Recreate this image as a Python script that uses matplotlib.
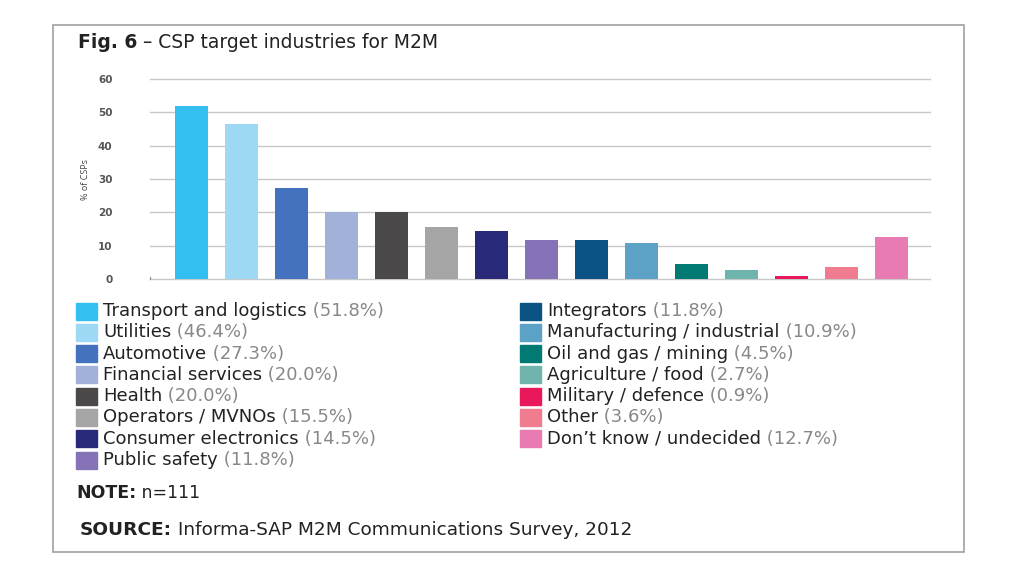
import matplotlib.pyplot as plt
from matplotlib.patches import Rectangle

industries = ["Transport and logistics", "Utilities", "Automotive", "Financial services",
              "Health", "Operators / MVNOs", "Consumer electronics", "Public safety",
              "Integrators", "Manufacturing / industrial", "Oil and gas / mining",
              "Agriculture / food", "Military / defence", "Other", "Don\u2019t know / undecided"]
values = [51.8, 46.4, 27.3, 20.0, 20.0, 15.5, 14.5, 11.8, 11.8, 10.9, 4.5, 2.7, 0.9, 3.6, 12.7]
colors = ["#33BFEF", "#9DD8F5", "#4472BE", "#A1B1DA", "#4A4849", "#A5A5A5", "#29297A",
          "#8673B7", "#0B5285", "#5CA2C6", "#007A73", "#6FB5AD", "#E8185A", "#F07C90", "#E87BB2"]
yticks = [0, 10, 20, 30, 40, 50, 60]

plt.rcParams['font.family'] = ['DejaVu Sans']
W, H = 1024, 584
fig = plt.figure(figsize=(W / 100, H / 100), dpi=100)

ax = fig.add_axes([150 / W, 1 - 279 / H, 780 / W, 200 / H])
x = list(range(len(values)))
ax.bar(x, values, width=0.66, color=colors, zorder=3)
ax.set_xlim(-0.82, 14.78)
ax.set_ylim(0, 60)
ax.set_yticks(yticks)
ax.set_yticklabels([str(v) for v in yticks], fontsize=7.5, fontweight="bold", color="#555555")
ax.tick_params(axis="y", length=0, pad=27)
ax.set_xticks([])
for v in yticks:
    ax.axhline(v, color="#c8c8c8", linewidth=1, zorder=1, clip_on=False)
for s in ax.spines.values():
    s.set_visible(False)
ax.plot([0, 0], [0, 0.6], transform=ax.get_yaxis_transform(), color="#888888", lw=0.8, clip_on=False)
fig.text(86 / W, 1 - 180 / H, "% of CSPs", rotation=90, fontsize=6.5, color="#444444",
         ha="center", va="center", family="Open Sans")

# outer frame
fig.patches.append(Rectangle((53 / W, 1 - 552 / H), 911 / W, 527 / H, transform=fig.transFigure,
                             fill=False, edgecolor="#a0a0a0", linewidth=1.2))

# title
t = fig.text(78 / W, 1 - 42 / H, "Fig. 6", fontsize=13.5, fontweight="bold", color="#222222",
             va="center")
ax.annotate(" \u2013 CSP target industries for M2M", xy=(1, 0.5), xycoords=t, va="center",
            fontsize=13.5, color="#222222", annotation_clip=False)

# legend, two columns
rows = 8
for i, (name, val, col) in enumerate(zip(industries, values, colors)):
    c, r = divmod(i, rows)
    sx = 76 if c == 0 else 520
    yc = 311 + r * 21.3
    fig.patches.append(Rectangle((sx / W, 1 - (yc + 8.5) / H), 21 / W, 17 / H,
                                 transform=fig.transFigure, color=col))
    lab = fig.text((sx + 27) / W, 1 - yc / H, name, fontsize=13, color="#222222", va="center")
    ax.annotate(f" ({val:.1f}%)", xy=(1, 0.5), xycoords=lab, va="center", fontsize=13,
                color="#888888", annotation_clip=False)

n = fig.text(76 / W, 1 - 493 / H, "NOTE:", fontsize=12.5, fontweight="bold", color="#222222",
             va="center")
ax.annotate(" n=111", xy=(1, 0.5), xycoords=n, va="center", fontsize=12.5, color="#222222",
            annotation_clip=False)
s = fig.text(80 / W, 1 - 530 / H, "SOURCE:", fontsize=13.3, fontweight="bold", color="#222222",
             va="center")
ax.annotate(" Informa-SAP M2M Communications Survey, 2012", xy=(1, 0.5), xycoords=s, va="center",
            fontsize=13.3, color="#222222", annotation_clip=False)

fig.savefig("out.png", dpi=100)
